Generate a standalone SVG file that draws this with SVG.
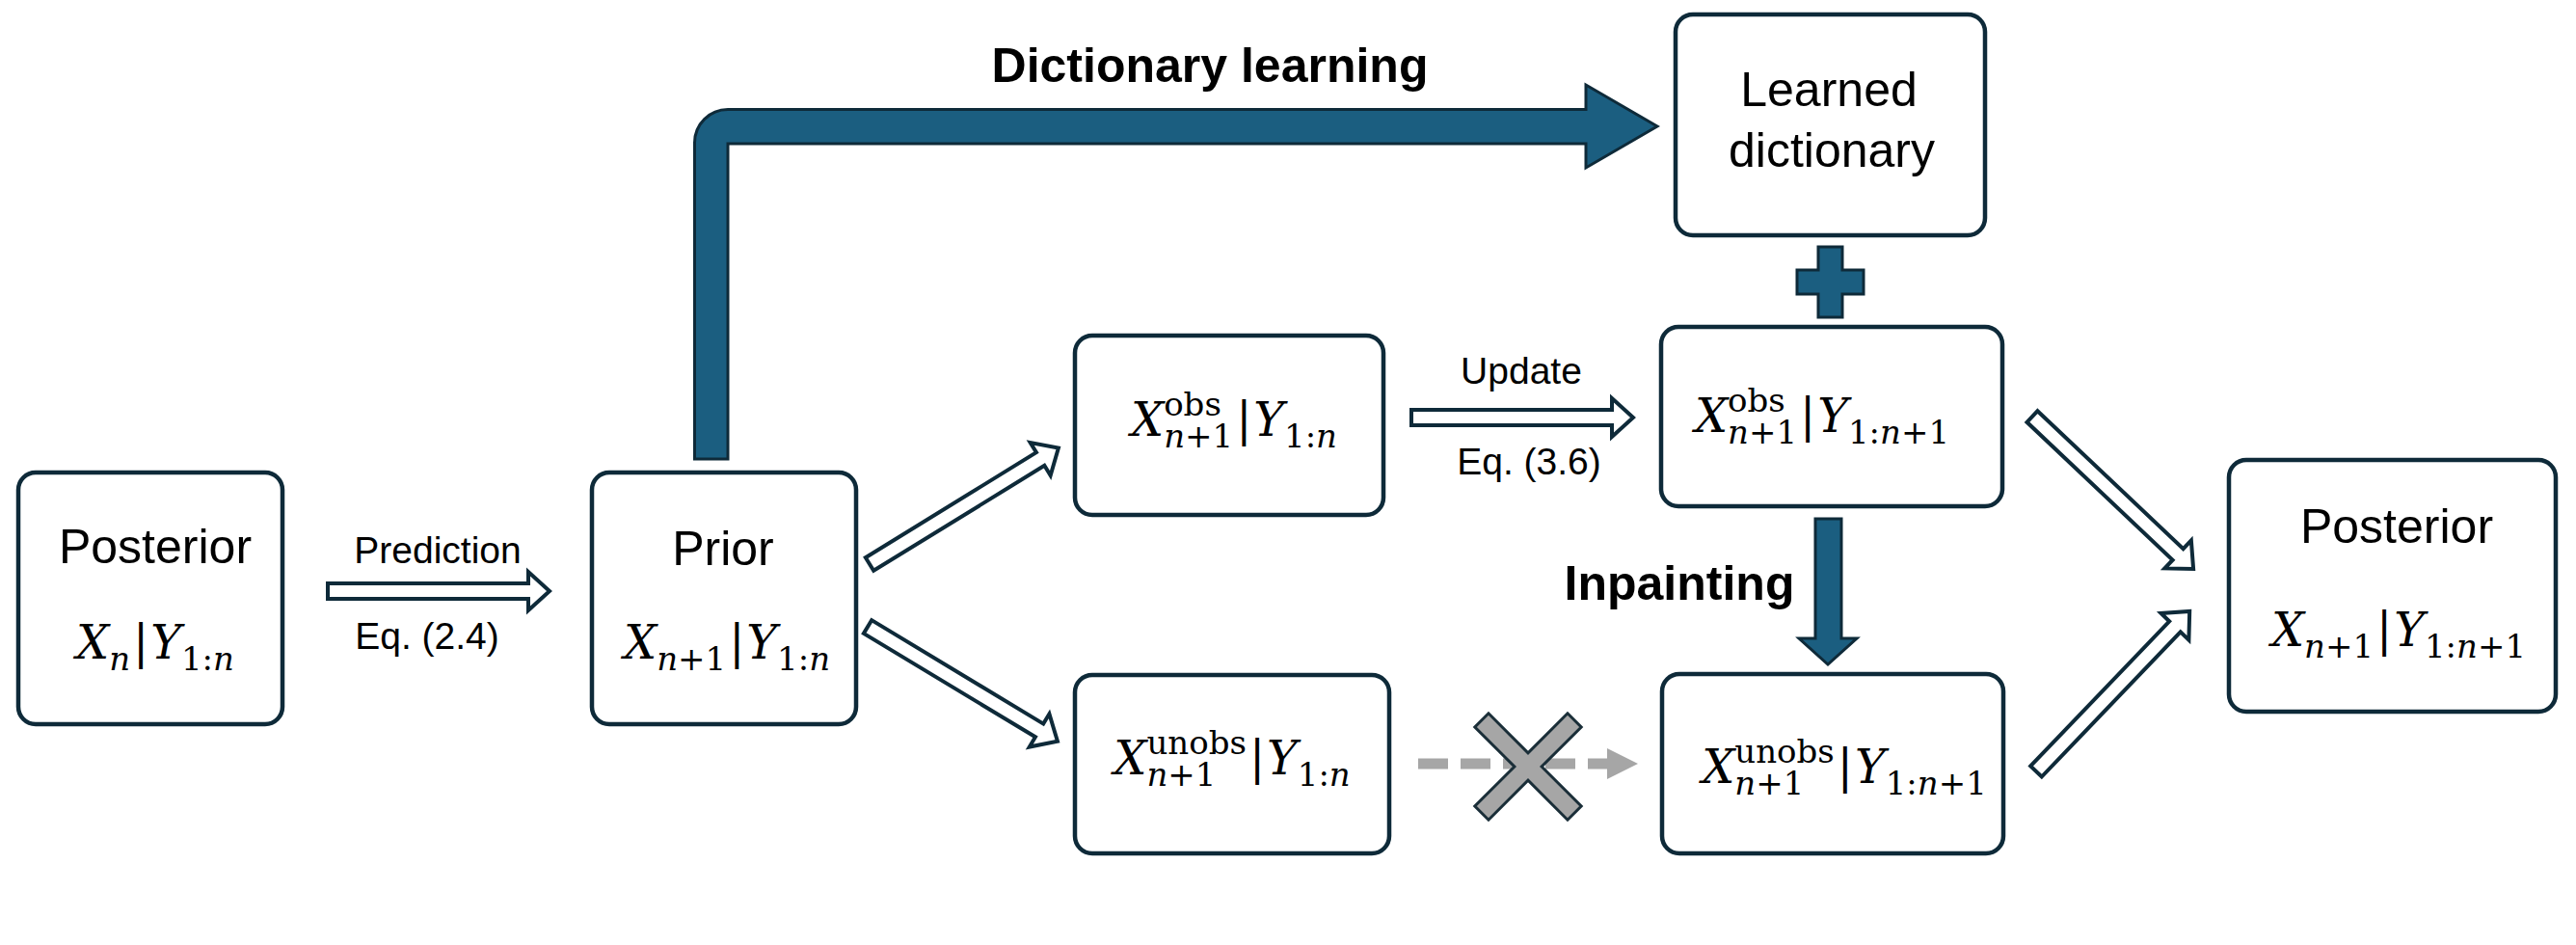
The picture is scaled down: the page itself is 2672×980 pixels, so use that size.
<svg xmlns="http://www.w3.org/2000/svg" xmlns:xlink="http://www.w3.org/1999/xlink" width="2672" height="980" viewBox="0 0 2672 980">
<style>
.box{fill:#ffffff;stroke:#0e2a39;stroke-width:4.5}
.lbl{font-family:"Liberation Sans",Arial,sans-serif;font-size:50px;fill:#000000;text-anchor:middle}
.sm{font-size:39px}
.b{font-weight:bold}
.m{font-family:"DejaVu Serif",serif;font-size:48px;fill:#000000;text-anchor:middle}
.i{font-style:italic}
.s{font-size:34px}
.hollow{fill:#ffffff;stroke:#0e2a39;stroke-width:4;stroke-linejoin:miter}
.solid{fill:#1b5e80;stroke:#0e2a39;stroke-width:3;stroke-linejoin:miter}
.gray{fill:#a6a6a6}
</style>
<defs>
<path id="ha" d="M0,-8 H208 V-20 L230,0 L208,20 V8 H0 Z"/>
</defs>
<rect x="0" y="0" width="2672" height="980" fill="#ffffff"/>

<g id="connectors">
  <!-- Dictionary learning bent arrow -->
  <path class="solid" d="M720.5,476 V148 A34.5,34.5 0 0 1 755,113.5 H1645 V88 L1719,131 L1645,174 V149 H755 V476 Z"/>
  <!-- Inpainting arrow -->
  <path class="solid" d="M1883,538 H1910 V662 H1926 L1896,689 L1866,662 H1883 Z"/>
  <!-- Plus sign -->
  <path class="solid" d="M1886,256 H1911 V280 H1933 V305 H1911 V329 H1886 V305 H1864 V280 H1886 Z"/>
  <!-- hollow arrows -->
  <use xlink:href="#ha" href="#ha" class="hollow" transform="translate(340,613)"/>
  <use xlink:href="#ha" href="#ha" class="hollow" transform="translate(1464,433)"/>
  <use xlink:href="#ha" href="#ha" class="hollow" transform="translate(902,585) rotate(-31.6)"/>
  <use xlink:href="#ha" href="#ha" class="hollow" transform="translate(900,650) rotate(31.1)"/>
  <use xlink:href="#ha" href="#ha" class="hollow" transform="translate(2108,432) rotate(43.4)"/>
  <use xlink:href="#ha" href="#ha" class="hollow" transform="translate(2112,800) rotate(-46.2)"/>
  <!-- blocked dashed arrow -->
  <line x1="1471" y1="792" x2="1667" y2="792" stroke="#a6a6a6" stroke-width="11" stroke-dasharray="31 13"/>
  <polygon class="gray" points="1667,776 1699,792 1667,808"/>
  <polygon fill="#a6a6a6" stroke="#1a2e38" stroke-width="3" stroke-linejoin="miter" transform="translate(1585,795)" points="14.1,0 55.2,41 41,55.2 0,14.1 -41,55.2 -55.2,41 -14.1,0 -55.2,-41 -41,-55.2 0,-14.1 41,-55.2 55.2,-41"/>
  <!-- connector labels -->
  <text class="lbl b" x="1255" y="85">Dictionary learning</text>
  <text class="lbl b" x="1742" y="622">Inpainting</text>
  <text class="lbl sm" x="454" y="584">Prediction</text>
  <text class="lbl sm" x="443" y="673">Eq. (2.4)</text>
  <text class="lbl sm" x="1578" y="398">Update</text>
  <text class="lbl sm" x="1586" y="492">Eq. (3.6)</text>
</g>

<g id="node-posterior-n">
  <rect class="box" x="19" y="490" width="274" height="261" rx="18"/>
  <text class="lbl" x="161" y="584">Posterior</text>
  <text class="m" x="161" y="683"><tspan class="i">X</tspan><tspan class="s i" dy="12">n</tspan><tspan dy="-12" dx="3">|</tspan><tspan class="i" dx="2">Y</tspan><tspan class="s" dy="12">1:<tspan class="i">n</tspan></tspan></text>
</g>

<g id="node-prior">
  <rect class="box" x="614" y="490" width="274" height="261" rx="18"/>
  <text class="lbl" x="750" y="586">Prior</text>
  <text class="m" x="754" y="683"><tspan class="i">X</tspan><tspan class="s" dy="12"><tspan class="i">n</tspan>+1</tspan><tspan dy="-12" dx="3">|</tspan><tspan class="i" dx="2">Y</tspan><tspan class="s" dy="12">1:<tspan class="i">n</tspan></tspan></text>
</g>

<g id="node-learned-dictionary">
  <rect class="box" x="1738" y="15" width="321" height="229" rx="18"/>
  <text class="lbl" x="1897" y="110">Learned</text>
  <text class="lbl" x="1900" y="173">dictionary</text>
</g>

<g id="node-obs-prior">
  <rect class="box" x="1115" y="348" width="320" height="186" rx="18"/>
  <text class="m" x="1280" y="452"><tspan class="i">X</tspan><tspan class="s" dy="-21">obs</tspan><tspan class="s" dx="-59.7" dy="33"><tspan class="i">n</tspan>+1</tspan><tspan dy="-12" dx="3">|</tspan><tspan class="i" dx="2">Y</tspan><tspan class="s" dy="12">1:<tspan class="i">n</tspan></tspan></text>
</g>

<g id="node-obs-posterior">
  <rect class="box" x="1723" y="339" width="354" height="186" rx="18"/>
  <text class="m" x="1890" y="448"><tspan class="i">X</tspan><tspan class="s" dy="-21">obs</tspan><tspan class="s" dx="-59.7" dy="33"><tspan class="i">n</tspan>+1</tspan><tspan dy="-12" dx="3">|</tspan><tspan class="i" dx="2">Y</tspan><tspan class="s" dy="12">1:<tspan class="i">n</tspan>+1</tspan></text>
</g>

<g id="node-unobs-prior">
  <rect class="box" x="1115" y="700" width="326" height="185" rx="18"/>
  <text class="m" x="1278" y="803"><tspan class="i">X</tspan><tspan class="s" dy="-21">unobs</tspan><tspan class="s" dx="-103.5" dy="33"><tspan class="i">n</tspan>+1</tspan><tspan dy="-12" dx="34.5">|</tspan><tspan class="i" dx="2">Y</tspan><tspan class="s" dy="12">1:<tspan class="i">n</tspan></tspan></text>
</g>

<g id="node-unobs-posterior">
  <rect class="box" x="1724" y="699" width="354" height="186" rx="18"/>
  <text class="m" x="1913" y="812"><tspan class="i">X</tspan><tspan class="s" dy="-21">unobs</tspan><tspan class="s" dx="-103.5" dy="33"><tspan class="i">n</tspan>+1</tspan><tspan dy="-12" dx="34.5">|</tspan><tspan class="i" dx="2">Y</tspan><tspan class="s" dy="12">1:<tspan class="i">n</tspan>+1</tspan></text>
</g>

<g id="node-posterior-n1">
  <rect class="box" x="2312" y="477" width="339" height="261" rx="18"/>
  <text class="lbl" x="2486" y="563">Posterior</text>
  <text class="m" x="2488" y="670"><tspan class="i">X</tspan><tspan class="s" dy="12"><tspan class="i">n</tspan>+1</tspan><tspan dy="-12" dx="3">|</tspan><tspan class="i" dx="2">Y</tspan><tspan class="s" dy="12">1:<tspan class="i">n</tspan>+1</tspan></text>
</g>
</svg>
